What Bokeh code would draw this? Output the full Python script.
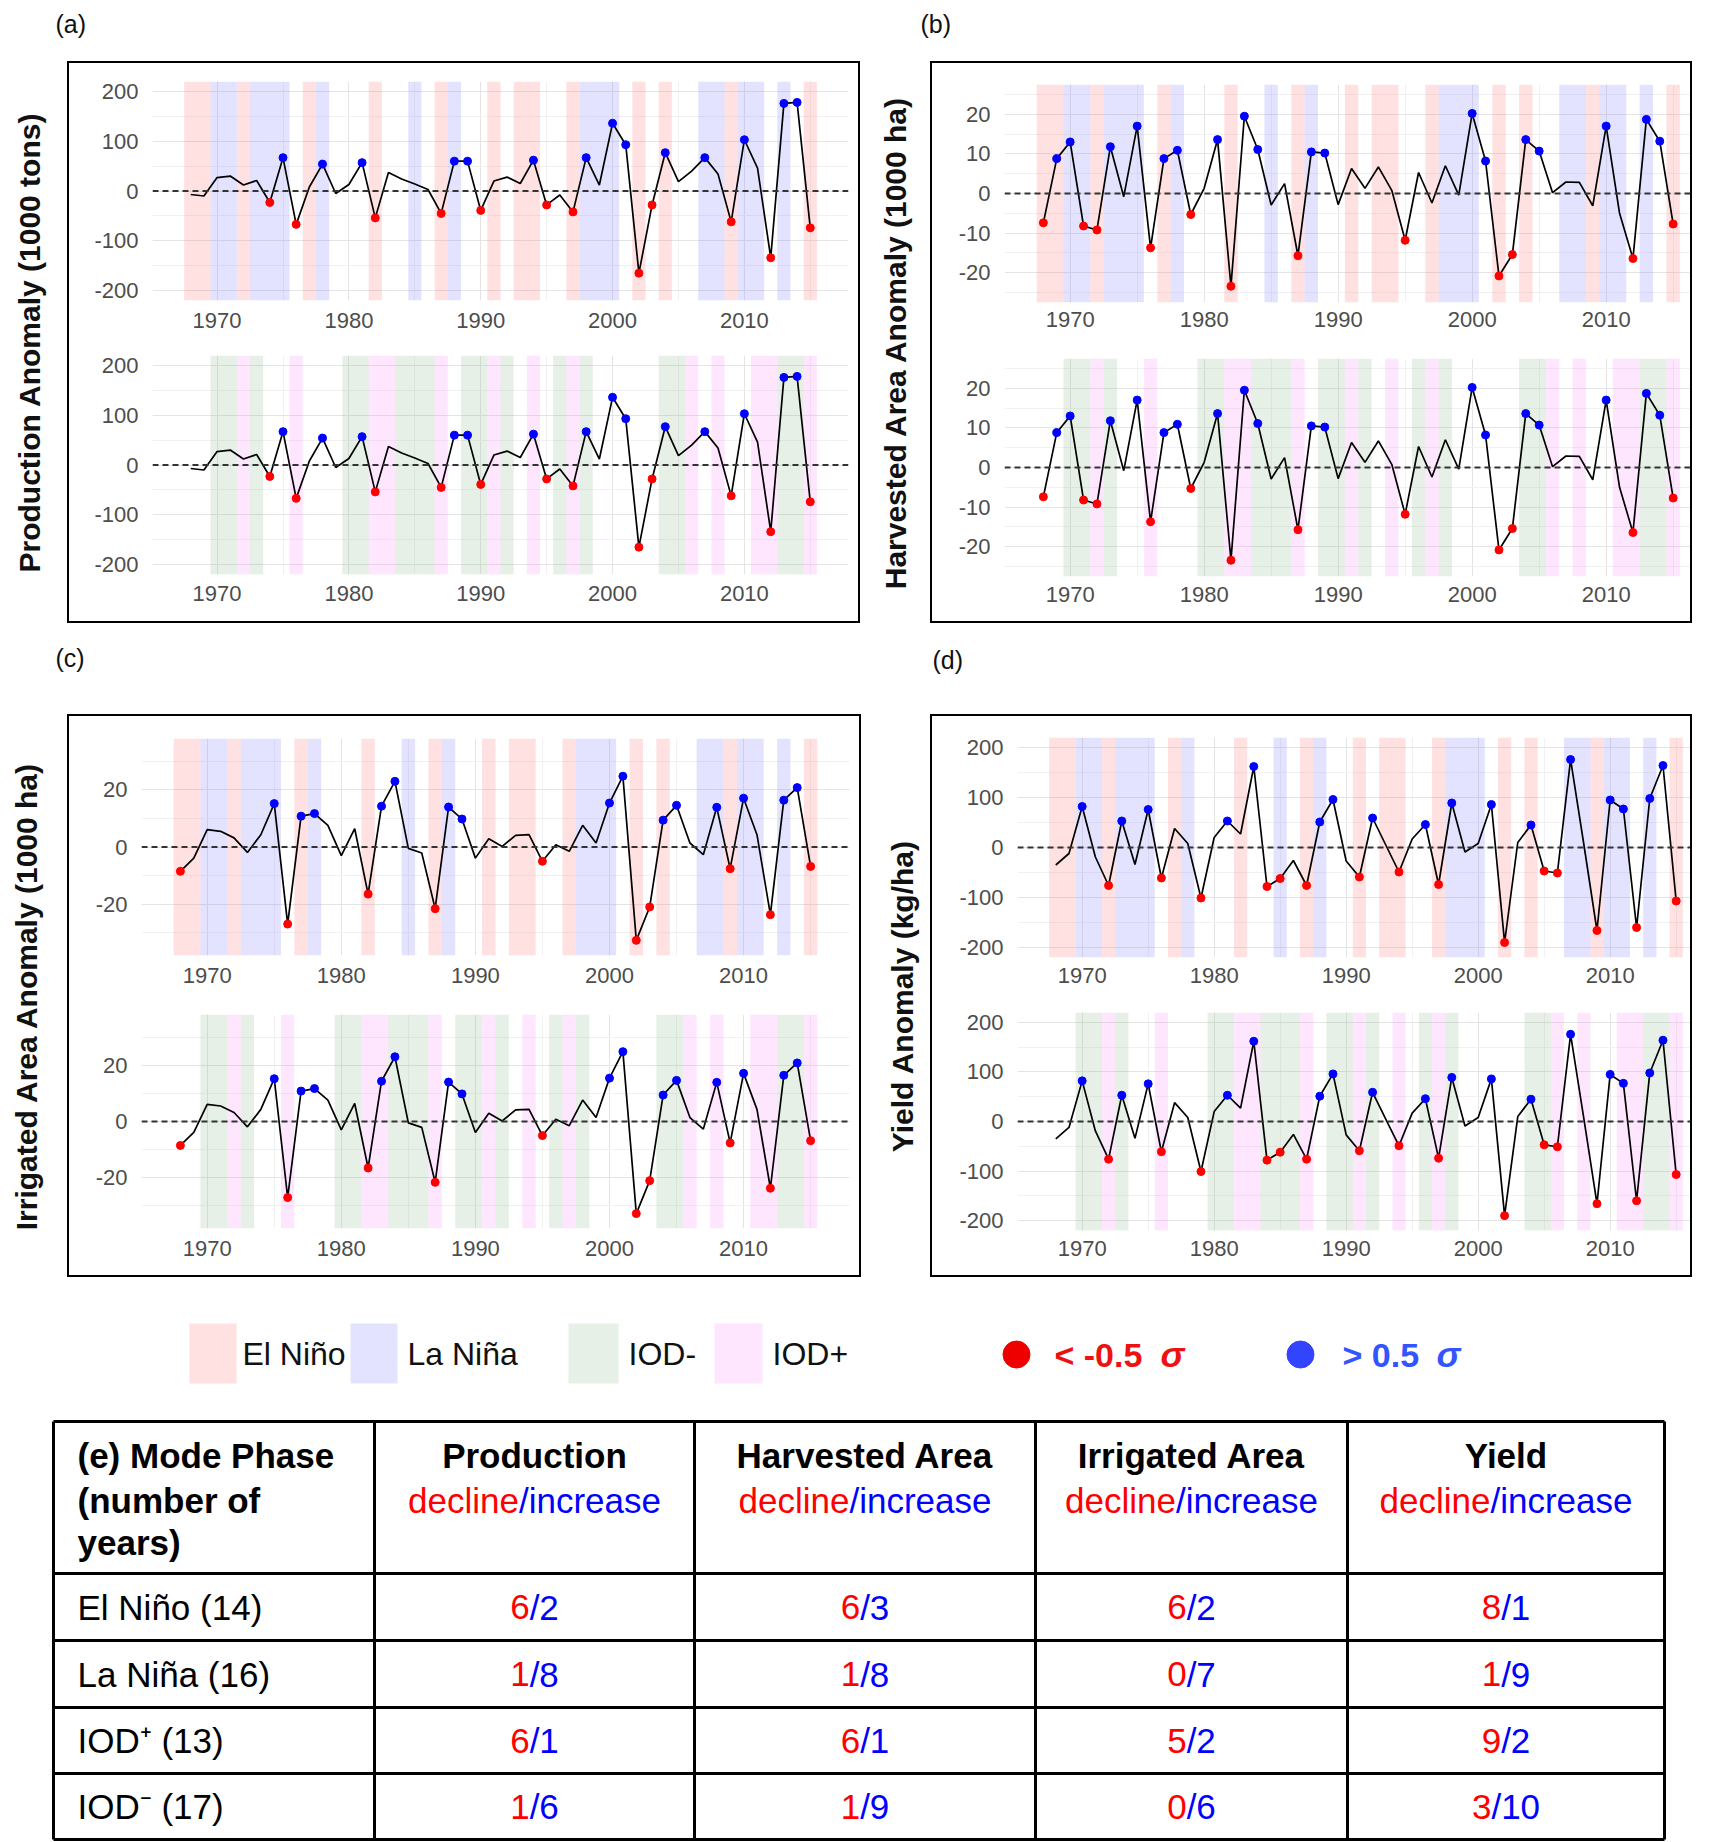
import math
from bokeh.plotting import figure
from bokeh.layouts import column, row
from bokeh.models import Range1d, FixedTicker, Span
from bokeh.embed import file_html
from bokeh.resources import INLINE
from bokeh.core.properties import value

FONT = "Liberation Sans"
W = 1725

# ---------------- data ----------------
years = list(range(1968, 2016))

production = [-7, -10, 27, 30, 12, 21, -23, 67, -67, 8, 54, -5,
              13, 57, -54, 37, 24, 14, 3, -45, 60, 60,
              -39, 20, 28, 15, 62, -28, -8, -42, 67, 12,
              136, 93, -165, -28, 77, 19, 40, 67, 34, -62,
              103, 46, -134, 176, 178, -74]
harvested = [-7.4, 8.8, 13, -8.2, -9.2, 11.8, -0.8, 17, -13.7, 8.8, 10.9, -5.3,
             1.3, 13.6, -23.4, 19.5, 11.1, -2.9, 2.5, -15.7, 10.5, 10.2,
             -2.8, 6.3, 1.3, 6.7, 0.8, -11.8, 5.3, -2.4, 7, -0.4,
             20.2, 8.2, -20.8, -15.4, 13.6, 10.7, 0.2, 2.9, 2.8, -3.1,
             17, -5, -16.4, 18.7, 13.2, -7.7]
irrigated = [-8.5, -3.9, 6.1, 5.5, 3.2, -1.9, 4.3, 15.2, -27, 10.8, 11.7, 7.6,
             -3, 6.4, -16.5, 14.3, 23, -0.5, -2.1, -21.6, 14, 9.8,
             -3.9, 2.9, 0.2, 4.1, 4.3, -5, 0.8, -1.5, 7.6, 1.4,
             15.4, 24.8, -32.7, -21, 9.4, 14.6, 1.4, -2.7, 13.9, -7.6,
             17.1, 4.3, -23.7, 16.4, 20.8, -6.8]
yield_kg = [-35, -12, 82, -19, -76, 53, -34, 76, -61, 38, 8, -101,
            20, 53, 27, 162, -78, -62, -26, -76, 51, 96,
            -27, -59, 59, 5, -49, 17, 46, -74, 89, -9,
            8, 86, -190, 10, 45, -47, -51, 176, 7, -166,
            95, 77, -160, 98, 164, -107]

# years flagged below -0.5 sigma (red) / above +0.5 sigma (blue)
prod_low = [1974, 1976, 1982, 1987, 1990, 1995, 1997, 2002, 2003, 2009, 2012, 2015]
prod_high = [1975, 1978, 1981, 1988, 1989, 1994, 1998, 2000, 2001, 2004, 2007, 2010, 2013, 2014]
harv_low = [1968, 1971, 1972, 1976, 1979, 1982, 1987, 1995, 2002, 2003, 2012, 2015]
harv_high = [1969, 1970, 1973, 1975, 1977, 1978, 1981, 1983, 1984, 1988, 1989, 2000, 2001,
             2004, 2005, 2010, 2013, 2014]
irr_low = [1968, 1976, 1982, 1987, 1995, 2002, 2003, 2009, 2012, 2015]
irr_high = [1975, 1977, 1978, 1983, 1984, 1988, 1989, 2000, 2001, 2004, 2005, 2008, 2010, 2013, 2014]
yld_low = [1972, 1976, 1979, 1984, 1985, 1987, 1991, 1994, 1997, 2002, 2005, 2006, 2009, 2012, 2015]
yld_high = [1970, 1973, 1975, 1981, 1983, 1988, 1989, 1992, 1996, 1998, 2001, 2004, 2007,
            2010, 2011, 2013, 2014]

# climate mode phases
el_nino = [1968, 1969, 1972, 1977, 1982, 1987, 1991, 1993, 1994, 1997, 2002, 2004, 2009, 2015]
la_nina = [1970, 1971, 1973, 1974, 1975, 1978, 1985, 1988, 1998, 1999, 2000, 2007, 2008,
           2010, 2011, 2013]
iod_pos = [1972, 1976, 1982, 1983, 1987, 1991, 1994, 1997, 2006, 2008, 2011, 2012, 2015]
iod_neg = [1970, 1971, 1973, 1980, 1981, 1984, 1985, 1986, 1989, 1990, 1992, 1996, 1998,
           2004, 2005, 2013, 2014]

# table (e)
table_modes = ["El Niño (14)", "La Niña (16)", "IOD\u207a (13)", "IOD\u207b (17)"]
table_vars = ["Production", "Harvested Area", "Irrigated Area", "Yield"]
table_decline = [[6, 6, 6, 8], [1, 1, 0, 1], [6, 6, 5, 9], [1, 1, 0, 3]]
table_increase = [[2, 3, 2, 1], [8, 8, 7, 9], [1, 1, 2, 2], [6, 9, 6, 10]]

# ---------------- styling ----------------
C_EL = ("#ff8c8c", 0.26)
C_LA = ("#8c8cff", 0.24)
C_NEG = ("#8fbc8f", 0.22)
C_POS = ("#ff8cff", 0.22)
RED = "#ff0000"
BLUE = "#0000ff"
X0, X1 = 1965.1, 2017.9


def runs(yrs):
    yrs = sorted(yrs)
    out = []
    s = p = yrs[0]
    for y in yrs[1:]:
        if y == p + 1:
            p = y
        else:
            out.append((s, p))
            s = p = y
    out.append((s, p))
    return out


def blank(w, h, flip=True):
    p = figure(width=w, height=h, x_range=Range1d(0, w),
               y_range=Range1d(h, 0) if flip else Range1d(0, h),
               output_backend="svg", toolbar_location=None,
               min_border=0, outline_line_color=None)
    p.axis.visible = False
    p.grid.visible = False
    p.background_fill_color = "white"
    p.border_fill_color = "white"
    return p


def subplot(vals, lows, highs, phases, ylim, yticks, yminor, y0px, ppu,
            fig_top, fig_h, inner_left, inner_w, x1970, ppy, label_y, clip_right):
    frame_left = x1970 - (1970 - X0) * ppy
    bl = int(round(frame_left - inner_left))
    if clip_right:
        br = 0
        xend = X0 + (inner_w - bl) / ppy
    else:
        xend = X1
        br = int(round(inner_w - bl - (X1 - X0) * ppy))
    ftop = y0px - ylim * ppu
    fbot = y0px + ylim * ppu
    bt = int(round(ftop - fig_top))
    bb = int(round(fig_top + fig_h - fbot))
    p = figure(width=inner_w, height=fig_h, x_range=Range1d(X0, xend),
               y_range=Range1d(-ylim, ylim), output_backend="svg",
               toolbar_location=None, min_border_left=bl, min_border_right=br,
               min_border_top=bt, min_border_bottom=bb)
    p.outline_line_color = None
    p.background_fill_color = "white"
    p.border_fill_color = "white"
    p.xaxis.ticker = FixedTicker(ticks=[1970, 1980, 1990, 2000, 2010],
                                 minor_ticks=[1965, 1975, 1985, 1995, 2005, 2015])
    p.yaxis.ticker = FixedTicker(ticks=yticks, minor_ticks=yminor)
    p.yaxis.major_label_overrides = {float(v): str(v) for v in yticks}
    for ax in (p.xaxis, p.yaxis):
        ax.axis_line_color = None
        ax.major_tick_line_color = None
        ax.minor_tick_line_color = None
        ax.major_label_text_font = FONT
        ax.major_label_text_font_size = "22px"
        ax.major_label_text_color = "#4d4d4d"
    p.yaxis.major_label_standoff = 8
    p.xaxis.major_label_standoff = max(0, int(round(label_y - fbot - 14)))
    for g in (p.xgrid, p.ygrid):
        g.grid_line_color = "#e4e4e4"
        g.grid_line_width = 1
        g.minor_grid_line_color = "#f1f1f1"
        g.minor_grid_line_width = 1

    for yrs, (col, alpha) in phases:
        rr = runs(yrs)
        p.quad(left=[s - 0.5 for s, e in rr], right=[e + 0.5 for s, e in rr],
               bottom=[-ylim] * len(rr), top=[ylim] * len(rr),
               fill_color=col, fill_alpha=alpha, line_color=None)
    p.add_layout(Span(location=0, dimension="width", line_color="#333333",
                      line_dash="6 4", line_width=1.8))
    p.line(years, vals, line_color="black", line_width=1.7)
    lookup = dict(zip(years, vals))
    p.scatter(lows, [lookup[y] for y in lows], size=8, fill_color=RED, line_color=RED)
    p.scatter(highs, [lookup[y] for y in highs], size=8, fill_color=BLUE, line_color=BLUE)
    return p


def panel(vals, lows, highs, ylim, yticks, yminor, cal_top, cal_bot, box,
          split, x1970, ppy, labels_y, clip_right):
    # box = (left, top, right, bottom) outer, border 2px
    bl_, bt_, br_, bb_ = box
    inner_left = bl_ + 2
    inner_w = br_ - bl_ - 4
    inner_top = bt_ + 2
    inner_bot = bb_ - 2
    top = subplot(vals, lows, highs, [(el_nino, C_EL), (la_nina, C_LA)], ylim, yticks,
                  yminor, cal_top[0], cal_top[1], inner_top, split - inner_top,
                  inner_left, inner_w, x1970, ppy, labels_y[0], clip_right)
    bot = subplot(vals, lows, highs, [(iod_neg, C_NEG), (iod_pos, C_POS)], ylim, yticks,
                  yminor, cal_bot[0], cal_bot[1], split, inner_bot - split,
                  inner_left, inner_w, x1970, ppy, labels_y[1], clip_right)
    return column(top, bot, styles={"border": "2px solid black"})


def ylab(w, h, cx, text):
    p = blank(w, h, flip=False)
    p.text(x=[cx], y=[h / 2], text=[text], angle=math.pi / 2, text_align="center",
           text_baseline="middle", text_font=value(FONT), text_font_size="30px",
           text_font_style="bold", text_color="#111111")
    return p


# ---------------- panels ----------------
box_a = (67, 61, 860, 623)
box_b = (930, 61, 1692, 623)
box_c = (67, 714, 861, 1277)
box_d = (930, 714, 1692, 1277)

pa = panel(production, prod_low, prod_high, 220, [-200, -100, 0, 100, 200],
           [-150, -50, 50, 150], (190.25, 0.49875), (464.5, 0.4975), box_a, 338,
           217, 13.19, (319.6, 593), False)
pb = panel(harvested, harv_low, harv_high, 27.5, [-20, -10, 0, 10, 20],
           [-25, -15, -5, 5, 15, 25], (193.3, 3.965), (467, 3.966), box_b, 338,
           1069.5, 13.4, (319.6, 594.5), True)
pc = panel(irrigated, irr_low, irr_high, 38, [-20, 0, 20], [-30, -10, 10, 30],
           (846.6, 2.85), (1121, 2.82), box_c, 993, 207, 13.4, (975, 1248), False)
pd = panel(yield_kg, yld_low, yld_high, 220, [-200, -100, 0, 100, 200],
           [-150, -50, 50, 150], (847, 0.5), (1121, 0.495), box_d, 993,
           1081.5, 13.2, (975, 1248), True)

# header labels
hdr1 = blank(W, 61)
hdr1.text(x=[55, 920], y=[23, 23], text=["(a)", "(b)"], text_font=value(FONT),
          text_font_size="25px", text_baseline="middle", text_align="left",
          text_color="#111111")
hdr2 = blank(W, 91)
hdr2.text(x=[55, 932], y=[34, 36], text=["(c)", "(d)"], text_font=value(FONT),
          text_font_size="25px", text_baseline="middle", text_align="left",
          text_color="#111111")

row1 = row(ylab(67, 562, 29, "Production Anomaly (1000 tons)"), pa,
           ylab(70, 562, 35, "Harvested Area Anomaly (1000 ha)"), pb)
row2 = row(ylab(67, 563, 26, "Irrigated Area Anomaly (1000 ha)"), pc,
           ylab(69, 563, 41, "Yield Anomaly (kg/ha)"), pd)

# ---------------- legend ----------------
leg = blank(W, 142)
LY = 76
leg_boxes = [(189, 236, C_EL), (350, 397, C_LA), (568, 618, C_NEG), (714, 762, C_POS)]
for l, r, (col, alpha) in leg_boxes:
    leg.quad(left=[l], right=[r], top=[LY - 30], bottom=[LY + 30],
             fill_color=col, fill_alpha=alpha, line_color=None)
leg.text(x=[242, 407, 628, 772], y=[LY] * 4, text=["El Niño", "La Niña", "IOD-", "IOD+"],
         text_font=value(FONT), text_font_size="32px", text_baseline="middle",
         text_align="left", text_color="#111111")
leg.scatter([1016], [LY + 1], size=27, fill_color="#ee0000", line_color="#ee0000")
leg.scatter([1300], [LY + 1], size=27, fill_color="#3344ff", line_color="#3344ff")
leg.text(x=[1054], y=[LY + 1], text=["< -0.5"], text_font=value(FONT),
         text_font_size="34px", text_font_style="bold", text_baseline="middle",
         text_align="left", text_color="#ee1111")
leg.text(x=[1160], y=[LY + 1], text=["\u03c3"], text_font=value(FONT),
         text_font_size="36px", text_font_style="bold italic", text_baseline="middle",
         text_align="left", text_color="#ee1111")
leg.text(x=[1342], y=[LY + 1], text=["> 0.5"], text_font=value(FONT),
         text_font_size="34px", text_font_style="bold", text_baseline="middle",
         text_align="left", text_color="#3355ff")
leg.text(x=[1436], y=[LY + 1], text=["\u03c3"], text_font=value(FONT),
         text_font_size="36px", text_font_style="bold italic", text_baseline="middle",
         text_align="left", text_color="#3355ff")

# ---------------- table ----------------
tab = blank(W, 423)
col_x = [53, 374, 694, 1035, 1347, 1664]
row_y = [2, 154, 221, 288, 354, 420]
tab.segment(x0=col_x, y0=[row_y[0]] * 6, x1=col_x, y1=[row_y[-1]] * 6,
            line_color="black", line_width=3)
tab.segment(x0=[col_x[0]] * 6, y0=row_y, x1=[col_x[-1]] * 6, y1=row_y,
            line_color="black", line_width=3)

AW = {'0': .556, '1': .556, '2': .556, '3': .556, '4': .556, '5': .556, '6': .556,
      '7': .556, '8': .556, '9': .556, '/': .278, 'd': .556, 'e': .556, 'c': .5,
      'l': .222, 'i': .222, 'n': .556, 'r': .333, 'a': .556, 's': .5}
FS = 35


def tw(s):
    return sum(AW[c] for c in s) * FS


def two_color(p, cx, y, a, b):
    split = cx - (tw(a) + tw(b)) / 2 + tw(a)
    p.text(x=[split], y=[y], text=[a], text_font=value(FONT), text_font_size=f"{FS}px",
           text_align="right", text_baseline="middle", text_color=RED)
    p.text(x=[split], y=[y], text=[b], text_font=value(FONT), text_font_size=f"{FS}px",
           text_align="left", text_baseline="middle", text_color=BLUE)


tab.text(x=[77, 77, 77], y=[36, 81, 123], text=["(e) Mode Phase", "(number of", "years)"],
         text_font=value(FONT), text_font_size=f"{FS}px", text_font_style="bold",
         text_align="left", text_baseline="middle", text_color="black")
centers = [(col_x[i] + col_x[i + 1]) / 2 for i in range(1, 5)]
tab.text(x=centers, y=[36] * 4, text=table_vars, text_font=value(FONT),
         text_font_size=f"{FS}px", text_font_style="bold", text_align="center",
         text_baseline="middle", text_color="black")
for cx in centers:
    two_color(tab, cx, 81, "decline", "/increase")
row_c = [(row_y[i] + row_y[i + 1]) / 2 for i in range(1, 5)]
tab.text(x=[77] * 4, y=row_c, text=table_modes, text_font=value(FONT),
         text_font_size=f"{FS}px", text_align="left", text_baseline="middle",
         text_color="black")
for ri in range(4):
    for ci in range(4):
        two_color(tab, centers[ci], row_c[ri], str(table_decline[ri][ci]),
                  "/" + str(table_increase[ri][ci]))

layout = column(hdr1, row1, hdr2, row2, leg, tab)
open("out.html", "w").write(file_html(layout, INLINE))
